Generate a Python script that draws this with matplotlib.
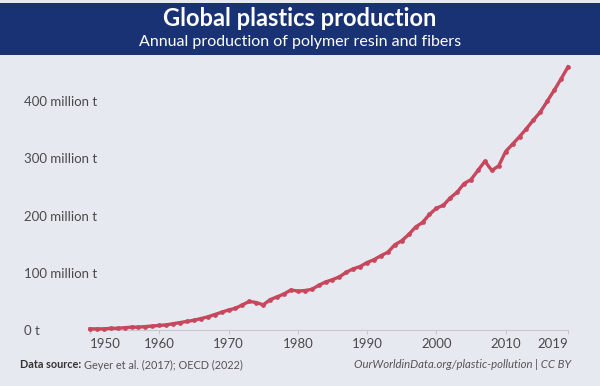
import matplotlib as mpl
import matplotlib.pyplot as plt

# Global plastics production, million tonnes (Geyer et al. 2017; OECD 2022)
years = list(range(1950, 2020))
production = [
    2, 2, 2, 3, 3, 4, 5, 5, 6, 7,
    8, 9, 11, 13, 15, 17, 20, 23, 27, 31,
    35, 38, 44, 50, 48, 44, 53, 58, 63, 70,
    68, 69, 71, 78, 84, 88, 93, 101, 107, 111,
    118, 123, 130, 136, 149, 156, 167, 180, 188, 202,
    213, 218, 231, 241, 256, 263, 279, 295, 279, 287,
    312, 325, 338, 352, 367, 381, 400, 419, 439, 460,
]
x_ticks = [1950, 1960, 1970, 1980, 1990, 2000, 2010, 2019]
y_ticks = [0, 100, 200, 300, 400]
y_labels = ["0 t", "100 million t", "200 million t", "300 million t", "400 million t"]

BG = "#e6e9f0"
HEADER = "#183273"
LINE = "#c8475c"
TEXT = "#4a4a4a"

mpl.rcParams.update({
    "font.family": ["Lato", "DejaVu Sans"],
    "font.size": 9,
})

W, H = 600, 386
fig = plt.figure(figsize=(W / 100, H / 100), dpi=100, facecolor=BG)

# header band
fig.patches.append(plt.Rectangle((0, 1 - 55 / H), 1, 52 / H, transform=fig.transFigure,
                                 facecolor=HEADER, edgecolor="none", zorder=0))
fig.text(0.5, 1 - 19 / H, "Global plastics production", ha="center", va="center",
         fontsize=17, fontweight="bold", color="white")
fig.text(0.5, 1 - 42 / H, "Annual production of polymer resin and fibers", ha="center",
         va="center", fontsize=11.5, color="white")

# plot area
left, right = 90 / W, 568 / W
bottom = 1 - 330 / H
ymax = 470
top = 1 - (330 - ymax * 0.572) / H
ax = fig.add_axes([left, bottom, right - left, top - bottom])
ax.set_facecolor(BG)
ax.plot(years, production, color=LINE, lw=2.4, marker="o", ms=2.4,
        solid_joinstyle="round", clip_on=False, zorder=3)
ax.set_xlim(1950, 2019)
ax.set_ylim(0, ymax)

for side in ["top", "right", "left"]:
    ax.spines[side].set_visible(False)
ax.spines["bottom"].set_color("#c8c8c8")
ax.spines["bottom"].set_linewidth(0.8)

ax.set_xticks(x_ticks)
ax.set_xticklabels([str(y) for y in x_ticks], fontsize=9.5, color=TEXT)
ax.tick_params(axis="x", length=3, color="#c8c8c8", pad=3)
xl = ax.get_xticklabels()
xl[0].set_ha("left")
xl[-1].set_ha("right")

ax.set_yticks(y_ticks)
ax.set_yticklabels(y_labels, fontsize=9.5, color=TEXT)
ax.tick_params(axis="y", length=0, pad=66 * 0.72)
for lab in ax.get_yticklabels():
    lab.set_ha("left")

# footer
src = fig.text(20 / W, 1 - 365 / H, "Data source:", ha="left", va="center", fontsize=7.8,
               fontweight="bold", color="#333333")
fig.canvas.draw()
src_right = src.get_window_extent().x1 / W
fig.text(src_right + 3 / W, 1 - 365 / H, "Geyer et al. (2017); OECD (2022)", ha="left",
         va="center", fontsize=7.8, color="#555555")
fig.text(571 / W, 1 - 365 / H, "OurWorldinData.org/plastic-pollution | CC BY", ha="right",
         va="center", fontsize=8.2, style="italic", color="#555555")

fig.savefig("out.png", dpi=100, facecolor=BG)
